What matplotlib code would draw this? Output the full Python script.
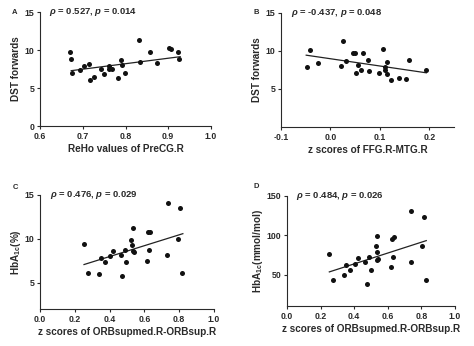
import numpy as np
import matplotlib.pyplot as plt

plt.rcParams['font.family'] = ['Liberation Sans', 'DejaVu Sans']
plt.rcParams['mathtext.fontset'] = 'custom'
plt.rcParams['mathtext.rm'] = 'Liberation Sans:bold'
plt.rcParams['mathtext.it'] = 'Liberation Sans:italic:bold'
plt.rcParams['mathtext.bf'] = 'Liberation Sans:bold'

# Panel A: ReHo of PreCG.R vs DST forwards
reho_x = [0.670, 0.672, 0.674, 0.694, 0.704, 0.715, 0.717, 0.726, 0.742, 0.749,
          0.761, 0.762, 0.768, 0.783, 0.790, 0.791, 0.799, 0.832, 0.834, 0.858,
          0.873, 0.902, 0.907, 0.923, 0.926]
reho_dst = [9.78, 8.86, 7.02, 7.32, 7.89, 8.11, 6.10, 6.40, 7.50, 6.89,
            7.85, 7.46, 7.50, 6.32, 8.68, 7.98, 6.97, 11.27, 8.42, 9.78,
            8.33, 10.26, 10.09, 9.69, 8.77]
reho_fit = ([0.673, 0.928], [7.28, 9.12])

# Panel B: FFG.R-MTG.R z scores vs DST forwards
ffg_x = [-0.048, -0.042, -0.025, 0.021, 0.025, 0.031, 0.045, 0.049, 0.051, 0.056,
         0.062, 0.066, 0.076, 0.078, 0.098, 0.107, 0.110, 0.111, 0.115, 0.115,
         0.123, 0.139, 0.153, 0.159, 0.194]
ffg_dst = [7.96, 10.15, 8.40, 8.05, 11.33, 8.75, 9.80, 9.80, 7.04, 8.22,
           7.48, 9.80, 8.88, 7.39, 7.04, 10.32, 7.48, 7.92, 8.53, 6.91,
           6.12, 6.47, 6.34, 8.79, 7.52]
ffg_fit = ([-0.049, 0.194], [9.45, 7.13])

# Panels C and D: ORBsupmed.R-ORBsup.R z scores vs HbA1c
orb_x = [0.251, 0.273, 0.338, 0.351, 0.376, 0.403, 0.418, 0.464, 0.472, 0.486,
         0.497, 0.524, 0.528, 0.532, 0.534, 0.539, 0.614, 0.622, 0.624, 0.631,
         0.733, 0.729, 0.791, 0.806, 0.818]
hba1c_pct = [9.44, 6.07, 6.00, 7.84, 7.34, 8.03, 8.64, 8.18, 5.73, 8.72,
             7.34, 9.90, 9.29, 11.25, 8.56, 8.45, 7.53, 10.75, 8.72, 10.82,
             14.04, 8.18, 9.94, 13.50, 6.15]
hba1c_pct_fit = ([0.253, 0.821], [7.07, 10.59])

orb_x_d = [0.250, 0.272, 0.339, 0.351, 0.377, 0.407, 0.423, 0.464, 0.476, 0.488,
           0.500, 0.528, 0.534, 0.538, 0.538, 0.544, 0.619, 0.627, 0.629, 0.639,
           0.740, 0.736, 0.802, 0.817, 0.829]
hba1c_mmol = [76.0, 42.7, 49.6, 62.0, 55.6, 64.0, 71.4, 65.4, 38.5, 71.8,
              56.4, 85.9, 78.6, 99.6, 68.8, 69.2, 59.4, 95.3, 71.8, 97.4,
              130.3, 65.8, 86.3, 123.5, 43.6]
hba1c_mmol_fit = ([0.252, 0.829], [53.4, 93.2])

W, H = 474, 346
fig = plt.figure(figsize=(W / 100, H / 100), dpi=100)
txt = '#2a2a2a'


def panel(box, letter, x, y, fit, xlim, ylim, xticks, yticks, xlabel, ylabel, stat,
          letter_xy, ypad):
    l, t, r, b = box
    ax = fig.add_axes([l / W, 1 - b / H, (r - l) / W, (b - t) / H])
    ax.scatter(x, y, s=13, color='#111111', zorder=3, linewidths=0)
    ax.plot(fit[0], fit[1], color='#222222', lw=0.9)
    ax.set_xlim(*xlim)
    ax.set_ylim(*ylim)
    ax.set_xticks(xticks)
    ax.set_yticks(yticks)
    ax.set_xticklabels([f'{v:.1f}' for v in xticks], fontsize=6.3, fontweight='bold', color=txt)
    ax.set_yticklabels([f'{v:g}' for v in yticks], fontsize=6.3, fontweight='bold', color=txt)
    ax.tick_params(length=2.5, width=0.8, pad=1.5, colors=txt)
    for s in ['top', 'right']:
        ax.spines[s].set_visible(False)
    for s in ['left', 'bottom']:
        ax.spines[s].set_linewidth(0.8)
        ax.spines[s].set_color(txt)
    ax.set_xlabel(xlabel, fontsize=7.2, fontweight='bold', color=txt, labelpad=2.5)
    ax.set_ylabel(ylabel, fontsize=7.2, fontweight='bold', color=txt, labelpad=ypad)
    ax.text(0.055, 1.0, stat, transform=ax.transAxes, fontsize=6.8, fontweight='bold',
            color=txt, va='center', ha='left')
    fig.text(letter_xy[0] / W, 1 - letter_xy[1] / H, letter, fontsize=5.5,
             fontweight='bold', color=txt, ha='center', va='center')
    return ax


panel((40, 12, 211, 126), 'A', reho_x, reho_dst, reho_fit, (0.6, 1.0), (0, 15),
      [0.6, 0.7, 0.8, 0.9, 1.0], [0, 5, 10, 15], 'ReHo values of PreCG.R', 'DST forwards',
      r'$\rho$ = 0.527, $p$ = 0.014', (15, 12), 2.5)

panel((281, 13, 454, 127), 'B', ffg_x, ffg_dst, ffg_fit, (-0.1, 0.25), (0, 15),
      [-0.1, 0.0, 0.1, 0.2], [5, 10, 15], 'z scores of FFG.R-MTG.R', 'DST forwards',
      r'$\rho$ = -0.437, $p$ = 0.048', (256, 12), 2.5)

panel((40, 195, 214, 309), 'C', orb_x, hba1c_pct, hba1c_pct_fit, (0.0, 1.0), (2, 15),
      [0.0, 0.2, 0.4, 0.6, 0.8, 1.0], [5, 10, 15], 'z scores of ORBsupmed.R-ORBsup.R',
      r'HbA$_{\mathrm{1c}}$(%)', r'$\rho$ = 0.476, $p$ = 0.029', (15, 188), 1)

panel((287, 196, 455, 306), 'D', orb_x_d, hba1c_mmol, hba1c_mmol_fit, (0.0, 1.0), (10, 150),
      [0.0, 0.2, 0.4, 0.6, 0.8, 1.0], [50, 100, 150], 'z scores of ORBsupmed.R-ORBsup.R',
      r'HbA$_{\mathrm{1c}}$(mmol/mol)', r'$\rho$ = 0.484, $p$ = 0.026', (256, 186), 1)

fig.savefig('out.png', dpi=100, facecolor='white')
